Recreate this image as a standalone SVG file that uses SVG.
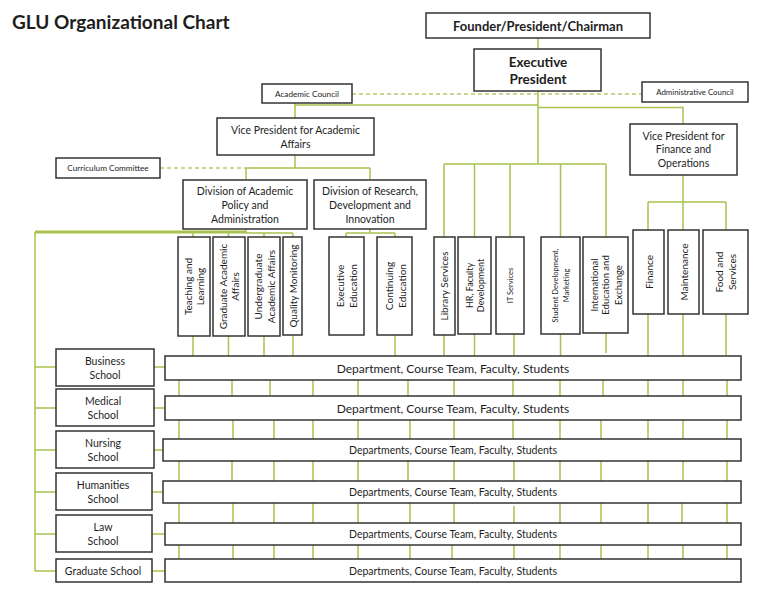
<svg xmlns="http://www.w3.org/2000/svg" width="768" height="590" viewBox="0 0 768 590">
<style>
.bx{fill:#fff;stroke:#333;stroke-width:1.5}
.ln{stroke:#A8C24F;stroke-width:1.5;fill:none}
.th{stroke:#A8C24F;stroke-width:3;fill:none}
.ds{stroke:#B5CD6C;stroke-width:1.5;fill:none;stroke-dasharray:4 3}
text{font-family:Lato,"Liberation Sans",sans-serif;fill:#1e1e1e;text-anchor:middle;dominant-baseline:central}
.b{font-weight:bold}
.t{font-size:10.5px}
.s{font-size:8.2px}
.v{font-size:10px}
.d1{font-size:12px}
.d2{font-size:10.5px}
</style>
<rect width="768" height="590" fill="#fff"/>
<text x="12" y="21" class="b" style="font-size:19px;text-anchor:start">GLU Organizational Chart</text>

<g id="connectors">
<path class="ln" d="M538 38V49M538 91V164M295 103V118M295 105H538M538 107.5H683V124"/>
<path class="ds" d="M352 94H642M160 168H246"/>
<path class="ln" d="M295 155V168M246 168H370M246 168V180M370 168V180"/>
<path class="ln" d="M444 164H606M444 164V237M474.5 164V237M510 164V237M560.5 164V237M606 164V237"/>
<path class="ln" d="M683 175V202M648 202H726M648 202V230M683 202V230M726 202V230"/>
<path class="ln" d="M246 229V233M246 233H293M193 233V237M228.5 233V237M264 233V237M293 233V237"/>
<path class="th" d="M35 232H246"/>
<path class="ln" d="M35 232V571M35 367H56M35 408H56M35 450H56M35 492H56M35 534H56M35 571H56"/>
<path class="ln" d="M370 229V233M346 233H395M346 233V237M395 233V237"/>
<path class="ln" d="M154 367H165M154 408H165M154 450H163M152 492H163M152 534H165M152 571H165"/>
<path class="ln" d="M193 336V356M228.5 336V356M264 336V356M293 335V356M395 335V356M444 335V356M474.5 334V356M514 334V356M560.5 334V356M606 333V353M648 314V356M683 314V356M726 314V356"/>
<path class="ln" d="M179 380V396M232 380V396M270 380V396M313 380V396M358 380V396M408 380V396M454 380V396M513 380V396M560 380V396M603 380V396M648 380V396M683 380V396M727 380V396"/>
<path class="ln" d="M179 420V439M233 420V439M274 420V439M313 420V439M358 420V439M410 420V439M454 420V439M513 420V439M560 420V439M601 420V439M648 420V439M683 420V439M727 420V439"/>
<path class="ln" d="M179 461V481M232 461V481M274 461V481M313 461V481M358 461V481M408 461V481M454 461V481M514 461V481M560 461V481M601 461V481M648 461V481M683 461V481M727 461V481"/>
<path class="ln" d="M179 503V523M233 503V523M274 503V523M313 503V523M358 503V523M410 503V523M454 503V523M514 506V523M560 503V523M601 503V523M648 503V523M682 503V523M727 503V523"/>
<path class="ln" d="M179 545V559M233 545V559M274 545V559M313 545V559M358 545V559M410 545V559M452 545V559M514 545V559M560 545V559M601 545V559M648 545V559M683 545V559M727 545V559"/>
</g>

<g id="founder"><rect class="bx" x="426" y="13" width="224" height="25"/><text x="538" y="25.5" class="b" style="font-size:13px">Founder/President/Chairman</text></g>
<g id="exec"><rect class="bx" x="474" y="49" width="127" height="42"/><text x="538" y="62" class="b" style="font-size:13.5px">Executive</text><text x="538" y="78.5" class="b" style="font-size:13.5px">President</text></g>
<g id="academic-council"><rect class="bx" x="262" y="84" width="90" height="19"/><text x="307" y="93.5" class="s">Academic Council</text></g>
<g id="admin-council"><rect class="bx" x="642" y="82" width="106" height="20"/><text x="695" y="92" class="s" style="font-size:7.8px">Administrative Council</text></g>
<g id="vp-academic"><rect class="bx" x="217" y="118" width="157" height="37"/><text x="295.5" y="130" class="t">Vice President for Academic</text><text x="295.5" y="144" class="t">Affairs</text></g>
<g id="vp-finance"><rect class="bx" x="630" y="124" width="107" height="51"/><text x="683.5" y="135.5" class="t">Vice President for</text><text x="683.5" y="149.3" class="t">Finance and</text><text x="683.5" y="163.3" class="t">Operations</text></g>
<g id="curriculum"><rect class="bx" x="56" y="158" width="104" height="20"/><text x="108" y="168" class="s">Curriculum Committee</text></g>
<g id="div-academic"><rect class="bx" x="183" y="180" width="124" height="49"/><text x="245" y="191" class="t">Division of Academic</text><text x="245" y="204.7" class="t">Policy and</text><text x="245" y="218.7" class="t">Administration</text></g>
<g id="div-research"><rect class="bx" x="314" y="180" width="112" height="49"/><text x="370" y="191" class="t">Division of Research,</text><text x="370" y="204.7" class="t">Development and</text><text x="370" y="218.7" class="t">Innovation</text></g>

<g id="teaching"><rect class="bx" x="178" y="237" width="32" height="99"/><text class="v" transform="translate(188.3 286.5) rotate(-90)">Teaching and</text><text class="v" transform="translate(200 286.5) rotate(-90)">Learning</text></g>
<g id="graduate-affairs"><rect class="bx" x="213" y="237" width="32" height="99"/><text class="v" transform="translate(223.3 286.5) rotate(-90)">Graduate Academic</text><text class="v" transform="translate(235 286.5) rotate(-90)">Affairs</text></g>
<g id="undergrad-affairs"><rect class="bx" x="248" y="237" width="32" height="99"/><text class="v" transform="translate(258.3 286.5) rotate(-90)">Undergraduate</text><text class="v" transform="translate(270.7 286.5) rotate(-90)">Academic Affairs</text></g>
<g id="quality"><rect class="bx" x="283" y="237" width="19" height="98"/><text class="v" transform="translate(292.7 286) rotate(-90)">Quality Monitoring</text></g>
<g id="exec-edu"><rect class="bx" x="329" y="237" width="35" height="98"/><text class="v" transform="translate(340 286) rotate(-90)">Executive</text><text class="v" transform="translate(352.7 286) rotate(-90)">Education</text></g>
<g id="cont-edu"><rect class="bx" x="377" y="237" width="35" height="98"/><text class="v" transform="translate(389 286) rotate(-90)">Continuing</text><text class="v" transform="translate(402.3 286) rotate(-90)">Education</text></g>
<g id="library"><rect class="bx" x="434" y="237" width="21" height="98"/><text class="v" transform="translate(444.3 286) rotate(-90)">Library Services</text></g>
<g id="hr"><rect class="bx" x="458" y="237" width="33" height="97"/><text transform="translate(469 285.5) rotate(-90)" style="font-size:9px">HR, Faculty</text><text transform="translate(480.7 285.5) rotate(-90)" style="font-size:9px">Development</text></g>
<g id="it"><rect class="bx" x="496" y="237" width="28" height="97"/><text transform="translate(510 285.5) rotate(-90)" style="font-size:7.5px">IT Services</text></g>
<g id="student-dev"><rect class="bx" x="541" y="237" width="39" height="97"/><text transform="translate(555.3 285.5) rotate(-90)" style="font-size:7.5px">Student Development,</text><text transform="translate(566.7 285.5) rotate(-90)" style="font-size:7.5px">Marketing</text></g>
<g id="intl"><rect class="bx" x="583" y="237" width="45" height="96"/><text transform="translate(594 285) rotate(-90)" style="font-size:9.5px">International</text><text transform="translate(605.7 285) rotate(-90)" style="font-size:9.5px">Education and</text><text transform="translate(618 285) rotate(-90)" style="font-size:9.5px">Exchange</text></g>
<g id="finance"><rect class="bx" x="633" y="230" width="31" height="84"/><text class="v" transform="translate(649 272) rotate(-90)">Finance</text></g>
<g id="maintenance"><rect class="bx" x="668" y="230" width="31" height="84"/><text class="v" transform="translate(684 272) rotate(-90)">Maintenance</text></g>
<g id="food"><rect class="bx" x="703" y="230" width="45" height="84"/><text class="v" transform="translate(719 272) rotate(-90)">Food and</text><text class="v" transform="translate(732.3 272) rotate(-90)">Services</text></g>

<g id="business"><rect class="bx" x="56" y="349" width="98" height="37"/><text x="105" y="361" class="t">Business</text><text x="105" y="375" class="t">School</text></g>
<g id="medical"><rect class="bx" x="56" y="389" width="98" height="37"/><text x="103" y="401" class="t">Medical</text><text x="103" y="415" class="t">School</text></g>
<g id="nursing"><rect class="bx" x="56" y="431" width="98" height="37"/><text x="103" y="443" class="t">Nursing</text><text x="103" y="457" class="t">School</text></g>
<g id="humanities"><rect class="bx" x="56" y="473" width="96" height="37"/><text x="103" y="485" class="t">Humanities</text><text x="103" y="499" class="t">School</text></g>
<g id="law"><rect class="bx" x="56" y="515" width="96" height="37"/><text x="103" y="527" class="t">Law</text><text x="103" y="541" class="t">School</text></g>
<g id="graduate-school"><rect class="bx" x="56" y="559" width="96" height="23"/><text x="103" y="571" class="t">Graduate School</text></g>

<g id="dept1"><rect class="bx" x="165" y="356" width="576" height="24"/><text x="453" y="368" class="d1">Department, Course Team, Faculty, Students</text></g>
<g id="dept2"><rect class="bx" x="165" y="396" width="576" height="24"/><text x="453" y="408" class="d1">Department, Course Team, Faculty, Students</text></g>
<g id="dept3"><rect class="bx" x="163" y="439" width="578" height="22"/><text x="453" y="450" class="d2">Departments, Course Team, Faculty, Students</text></g>
<g id="dept4"><rect class="bx" x="163" y="481" width="578" height="22"/><text x="453" y="492" class="d2">Departments, Course Team, Faculty, Students</text></g>
<g id="dept5"><rect class="bx" x="165" y="523" width="576" height="22"/><text x="453" y="534" class="d2">Departments, Course Team, Faculty, Students</text></g>
<g id="dept6"><rect class="bx" x="165" y="559" width="576" height="23"/><text x="453" y="570.5" class="d2">Departments, Course Team, Faculty, Students</text></g>
</svg>
